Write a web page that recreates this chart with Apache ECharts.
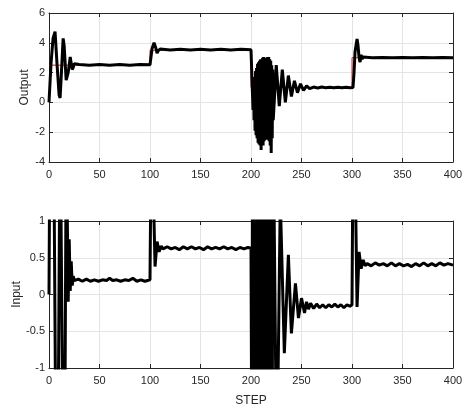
<!DOCTYPE html>
<html>
<head>
<meta charset="utf-8">
<script src="https://cdn.jsdelivr.net/npm/echarts@6/dist/echarts.min.js"></script>
<style>
  html, body { margin: 0; padding: 0; background: #fff; }
  #chart { width: 474px; height: 415px; }
</style>
</head>
<body>
<div id="chart"></div>
<script>
// reference (red) setpoint for the output plot
var refStep = [0, 100, 100, 200, 200, 300, 300, 400];
var refValue = [2.5, 2.5, 3.5, 3.5, 1, 1, 3, 3];

// output response (black)
var outputStep = [
  0, 2, 4, 6, 8, 10, 11, 12, 14, 15, 17, 19, 21, 22, 23, 24, 25, 26,
  30, 40, 50, 60, 70, 80, 90, 100,
  101, 102, 104, 106, 107, 108, 110,
  120, 130, 140, 150, 160, 170, 180, 190, 200,
  201, 202, 202.5, 203, 203.5, 204, 204.5, 205, 205.5, 206, 206.5, 207, 207.5,
  208, 208.5, 209, 209.5, 210, 210.5, 211, 211.5, 212, 212.5, 213, 213.5,
  214, 214.5, 215, 215.5, 216, 216.5, 217, 217.5, 218, 218.5, 219, 219.5,
  220, 220.5, 221, 221.5, 222,
  225, 228, 231, 234, 237, 240, 243, 246, 249, 252, 255, 258,
  262, 266, 270, 274, 278, 282, 286, 290, 294, 298, 301,
  302, 303, 305, 306, 307, 308, 309, 310, 311,
  320, 330, 340, 350, 360, 370, 380, 390, 400
];
var outputValue = [
  0, 2.6, 4.3, 4.75, 2.5, 0.5, 0.3, 1.6, 4.3, 3.8, 1.5, 2.0, 3.05, 3.0, 2.2, 2.35, 2.6, 2.5,
  2.55, 2.5, 2.55, 2.5, 2.55, 2.5, 2.55, 2.52,
  2.6, 3.6, 4.0, 3.6, 3.3, 3.45, 3.58,
  3.52, 3.57, 3.52, 3.56, 3.52, 3.56, 3.52, 3.56, 3.53,
  3.5, -0.5, 1.5, -1.2, 1.7, -1.9, 2.1, -2.2, 2.3, -2.4, 2.6, -2.7, 2.7,
  -2.8, 2.8, -2.9, 2.9, -3.2, 2.9, -2.8, 3.0, -2.9, 3.05, -2.6, 3.0,
  -2.3, 2.9, -2.5, 3.0, -2.4, 3.05, -2.5, 3.05, -2.6, 2.9, -2.9, 2.8,
  -3.4, 2.5, -2.4, 2.2, -1.2,
  2.5, -0.25, 2.2, 0.0, 1.8, 0.4, 1.45, 0.65, 1.25, 0.8, 1.12, 0.92,
  1.03, 0.97, 1.03, 0.98, 1.02, 0.98, 1.02, 0.98, 1.02, 0.98, 1.0,
  2.0, 3.4, 4.25, 3.8, 3.0, 2.7, 3.2, 2.9, 3.05,
  3.0, 3.02, 2.99, 3.02, 2.99, 3.02, 2.99, 3.01, 3.0
];

// control input (black)
var inputStep = [
  0, 1, 3, 5, 7, 9, 11, 13, 14, 16, 17, 18, 19, 20, 21, 22, 23, 24, 25,
  29, 33, 37, 41, 45, 49, 53, 57, 60, 63, 67, 71, 75, 79, 83, 87, 91, 95, 100,
  101, 103, 105, 107, 109, 111, 113,
  117, 121, 125, 129, 133, 137, 141, 145, 149, 153, 157, 161, 165, 169, 173,
  177, 181, 185, 189, 193, 197, 200,
  201, 201.5, 202, 202.5, 203, 203.5, 204, 204.5, 205, 205.5, 206, 206.5,
  207, 207.5, 208, 208.5, 209, 209.5, 210, 210.5, 211, 211.5, 212, 212.5,
  213, 213.5, 214, 214.5, 215, 215.5, 216, 216.5, 217, 217.5, 218, 218.5,
  219, 219.5, 220, 220.5, 221, 221.5,
  225, 226, 229, 233, 237, 240, 244, 247, 250, 253, 255, 257, 259,
  262, 265, 268, 271, 274, 277, 280, 283, 286, 289, 292, 295, 298, 300,
  301, 303, 305, 307, 309, 311, 313, 315,
  319, 323, 327, 331, 335, 339, 343, 347, 351, 355, 359, 363, 367, 371, 375,
  379, 383, 387, 391, 395, 400
];
var inputValue = [
  0, 2.5, 2.2, 1.5, -2.5, -2.0, 2.5, -0.7, -2.5, -1.0, 2.0, 1.2, -0.1, 0.75, 0.05, 0.45, 0.12, 0.25, 0.19,
  0.21, 0.18, 0.21, 0.18, 0.2, 0.18, 0.2, 0.19, 0.22, 0.19, 0.2, 0.18, 0.2, 0.19, 0.22, 0.18, 0.2, 0.18, 0.2,
  1.8, 1.6, 0.38, 0.72, 0.58, 0.66, 0.62,
  0.65, 0.62, 0.64, 0.61, 0.65, 0.62, 0.65, 0.62, 0.64, 0.61, 0.65, 0.62, 0.64, 0.62, 0.65,
  0.62, 0.64, 0.61, 0.64, 0.62, 0.64, 0.63,
  -3, 3, -3, 3, -3, 3, -3, 3, -3, 3, -3, 3,
  -3, 3, -3, 3, -3, 3, -3, 3, -3, 3, -3, 3,
  -3, 3, -3, 3, -3, 3, -3, 3, -3, 3, -3, 3,
  -3, 3, -3, 3, -3, 3,
  -1.8, -2.0, 1.3, -0.8, 0.54, -0.53, 0.15, -0.32, -0.05, -0.25, -0.1, -0.2, -0.12,
  -0.19, -0.13, -0.18, -0.14, -0.18, -0.14, -0.17, -0.13, -0.17, -0.14, -0.18, -0.14, -0.16, -0.14,
  2.0, 1.8, -0.17, 0.58, 0.35, 0.47, 0.39, 0.42,
  0.39, 0.43, 0.4, 0.42, 0.39, 0.43, 0.39, 0.42, 0.39, 0.41, 0.38, 0.42, 0.39, 0.43, 0.39,
  0.42, 0.39, 0.43, 0.4, 0.42, 0.4
];

function zip(xs, ys) {
  return xs.map(function (x, i) { return [x, ys[i]]; });
}

var txt = '#262626';
var font = 'Liberation Sans, Arial, sans-serif';

function xAx(grid, pos, labels, extra) {
  return Object.assign({
    type: 'value', gridIndex: grid, position: pos, min: 0, max: 400, interval: 50,
    axisLine: { show: true, onZero: false, lineStyle: { color: txt, width: 1 } },
    axisTick: { show: true, inside: true, length: 4, lineStyle: { color: txt } },
    axisLabel: { show: labels, color: txt, fontSize: 11, fontFamily: font, margin: 7 },
    splitLine: { show: labels, lineStyle: { color: '#e4e4e4', width: 1 } }
  }, extra || {});
}

function yAx(grid, pos, labels, min, max, interval, extra) {
  return Object.assign({
    type: 'value', gridIndex: grid, position: pos, min: min, max: max, interval: interval,
    axisLine: { show: true, onZero: false, lineStyle: { color: txt, width: 1 } },
    axisTick: { show: true, inside: true, length: 4, lineStyle: { color: txt } },
    axisLabel: { show: labels, color: txt, fontSize: 11, fontFamily: font, margin: 4 },
    splitLine: { show: labels, lineStyle: { color: '#e4e4e4', width: 1 } }
  }, extra || {});
}

var chart = echarts.init(document.getElementById('chart'));
chart.setOption({
  backgroundColor: '#fff',
  animation: false,
  grid: [
    { left: 49, top: 13, width: 404, height: 149 },
    { left: 49, top: 221, width: 404, height: 147 }
  ],
  xAxis: [
    xAx(0, 'bottom', true),
    xAx(0, 'top', false),
    xAx(1, 'bottom', true, {
      name: 'STEP', nameLocation: 'middle', nameGap: 27, nameMoveOverlap: false,
      nameTextStyle: { color: txt, fontSize: 12, fontFamily: font }
    }),
    xAx(1, 'top', false)
  ],
  yAxis: [
    yAx(0, 'left', true, -4, 6, 2, {
      name: 'Output', nameLocation: 'middle', nameGap: 18, nameMoveOverlap: false,
      nameTextStyle: { color: txt, fontSize: 12, fontFamily: font }
    }),
    yAx(0, 'right', false, -4, 6, 2),
    yAx(1, 'left', true, -1, 1, 0.5, {
      name: 'Input', nameLocation: 'middle', nameGap: 26, nameMoveOverlap: false,
      nameTextStyle: { color: txt, fontSize: 12, fontFamily: font }
    }),
    yAx(1, 'right', false, -1, 1, 0.5)
  ],
  series: [
    {
      name: 'ref', type: 'line', xAxisIndex: 0, yAxisIndex: 0,
      data: zip(refStep, refValue), showSymbol: false, z: 2,
      lineStyle: { color: '#d62020', width: 1 }
    },
    {
      name: 'output', type: 'line', xAxisIndex: 0, yAxisIndex: 0,
      data: zip(outputStep, outputValue), showSymbol: false, z: 3, clip: true,
      lineStyle: { color: '#000', width: 3 }
    },
    {
      name: 'input', type: 'line', xAxisIndex: 2, yAxisIndex: 2,
      data: zip(inputStep, inputValue), showSymbol: false, z: 3, clip: true,
      lineStyle: { color: '#000', width: 3 }
    }
  ]
});
</script>
</body>
</html>
